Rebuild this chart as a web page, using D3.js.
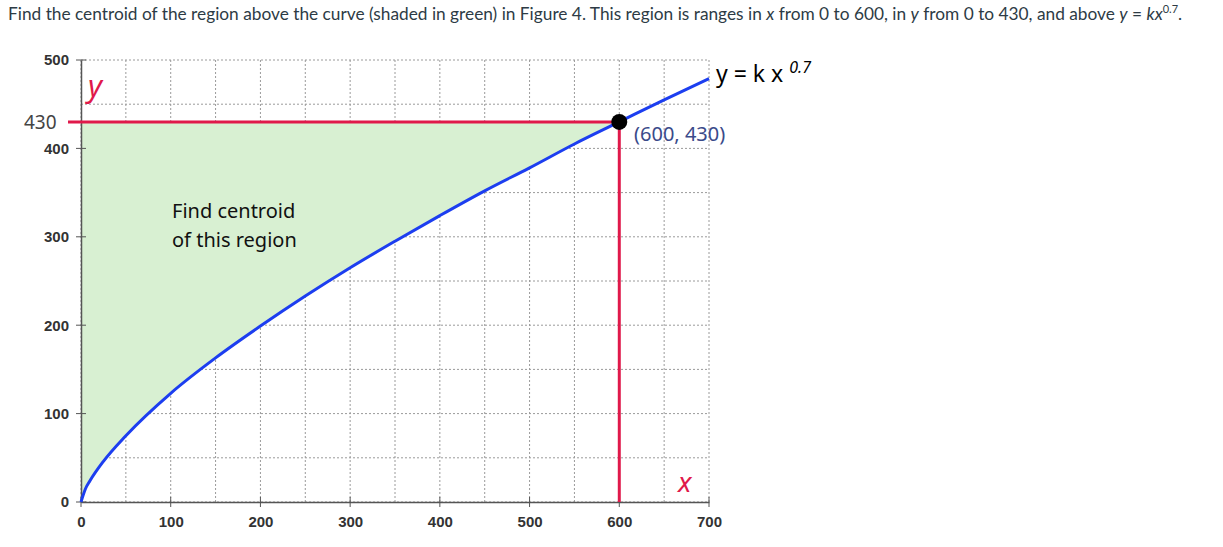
<!DOCTYPE html>
<html><head><meta charset="utf-8">
<script src="https://cdn.jsdelivr.net/npm/d3@7"></script>
<style>body{margin:0;background:#fff}</style>
</head><body>
<svg id="chart" width="1223" height="547"></svg>
<script>
// values
var curveX = [0, 5, 10, 25, 50, 100, 150, 200, 250, 300, 350, 400, 450, 500, 550, 600, 650, 700];
var curveY = [0, 15, 24, 46, 75, 123, 163, 199, 233, 265, 295, 324, 352, 378, 405, 430, 455, 479];
var xTicks = [0, 100, 200, 300, 400, 500, 600, 700];
var yTicks = [0, 100, 200, 300, 400, 500];
var gridStep = [0, 50, 100, 150, 200, 250, 300, 350, 400, 450, 500, 550, 600, 650, 700];
var corner = {x: 600, y: 430};

var svg = d3.select("#chart");
var x = d3.scaleLinear().domain([0, 700]).range([81, 709]);
var y = d3.scaleLinear().domain([0, 500]).range([502, 60]);

// title
var t = svg.append("text").attr("x", 8).attr("y", 20)
  .style("font-family", "Lato, sans-serif").style("font-size", "17.3px").attr("fill", "#2d3b45");
t.append("tspan").text("Find the centroid of the region above the curve (shaded in green) in Figure 4. This region is ranges in ");
t.append("tspan").style("font-style", "italic").text("x");
t.append("tspan").text(" from 0 to 600, in ");
t.append("tspan").style("font-style", "italic").text("y");
t.append("tspan").text(" from 0 to 430, and above ");
t.append("tspan").style("font-style", "italic").text("y");
t.append("tspan").text(" = ");
t.append("tspan").style("font-style", "italic").text("kx");
t.append("tspan").attr("dy", -7).style("font-size", "11px").text("0.7");
t.append("tspan").attr("dy", 7).text(".");

// grid
var grid = svg.append("g").attr("stroke", "#9a9a9a").attr("stroke-width", 1).attr("stroke-dasharray", "2,2");
gridStep.forEach(function (v) {
  grid.append("line").attr("x1", x(v)).attr("x2", x(v)).attr("y1", y(0)).attr("y2", y(500));
  if (v <= 500) grid.append("line").attr("x1", x(0)).attr("x2", x(700)).attr("y1", y(v)).attr("y2", y(v));
});

// shaded region
var pts = curveX.map(function (d, i) { return [d, curveY[i]]; }).filter(function (p) { return p[0] <= 600; });
var area = d3.area().x(function (d) { return x(d[0]); }).y0(y(430)).y1(function (d) { return y(d[1]); });
svg.append("path").datum(pts).attr("d", area).attr("fill", "#d8f0d2");

// axes
var xAxis = d3.axisBottom(x).tickValues(xTicks).tickSize(0).tickPadding(14);
var yAxis = d3.axisLeft(y).tickValues(yTicks).tickSize(0).tickPadding(12);
[svg.append("g").attr("transform", "translate(0," + y(0) + ")").call(xAxis),
 svg.append("g").attr("transform", "translate(" + x(0) + ",0)").call(yAxis)].forEach(function (g) {
  g.select(".domain").attr("stroke", "#555").attr("stroke-width", 1.5);
  g.selectAll("text").style("font-family", "Liberation Sans, Arial").style("font-size", "15px")
    .style("font-weight", "bold").attr("fill", "#333");
});
xTicks.forEach(function (v) {
  svg.append("line").attr("x1", x(v)).attr("x2", x(v)).attr("y1", y(0) - 5).attr("y2", y(0) + 5).attr("stroke", "#555");
});
yTicks.forEach(function (v) {
  svg.append("line").attr("x1", x(0) - 5).attr("x2", x(0) + 5).attr("y1", y(v)).attr("y2", y(v)).attr("stroke", "#555");
});

// red lines
svg.append("line").attr("x1", x(0) - 13).attr("x2", x(corner.x)).attr("y1", y(corner.y)).attr("y2", y(corner.y))
  .attr("stroke", "#e0194a").attr("stroke-width", 3);
svg.append("line").attr("x1", x(corner.x)).attr("x2", x(corner.x)).attr("y1", y(corner.y)).attr("y2", y(0))
  .attr("stroke", "#e0194a").attr("stroke-width", 3);

// curve
var line = d3.line().curve(d3.curveMonotoneX).x(function (d, i) { return x(curveX[i]); }).y(function (d) { return y(d); });
svg.append("path").datum(curveY).attr("d", line).attr("fill", "none").attr("stroke", "#1c3ef0").attr("stroke-width", 3);

svg.append("circle").attr("cx", x(corner.x)).attr("cy", y(corner.y)).attr("r", 8).attr("fill", "#000");

// labels
var lf = "Noto Sans, Open Sans, sans-serif";
svg.append("text").attr("x", 24).attr("y", y(430) + 7).text("430").style("font-family", lf).style("font-size", "19px").attr("fill", "#444");
svg.append("text").attr("x", 88).attr("y", 97).text("y").style("font-family", lf).style("font-size", "30px").style("font-style", "italic").attr("fill", "#e0194a");
svg.append("text").attr("x", 678).attr("y", 492).text("x").style("font-family", lf).style("font-size", "28px").style("font-style", "italic").attr("fill", "#e0194a");
svg.append("text").attr("x", 634).attr("y", 141).text("(600, 430)").style("font-family", lf).style("font-size", "20px").attr("fill", "#3a4a8a");
var eq = svg.append("text").attr("x", 716).attr("y", 82).style("font-family", lf).style("font-size", "23px").attr("fill", "#000");
eq.append("tspan").text("y = k x ");
eq.append("tspan").attr("dy", -9).style("font-size", "16px").style("font-style", "italic").text("0.7");
svg.append("text").attr("x", 172).attr("y", 218).text("Find centroid").style("font-family", lf).style("font-size", "20px").attr("fill", "#111");
svg.append("text").attr("x", 172).attr("y", 247).text("of this region").style("font-family", lf).style("font-size", "20px").attr("fill", "#111");
</script>
</body></html>
